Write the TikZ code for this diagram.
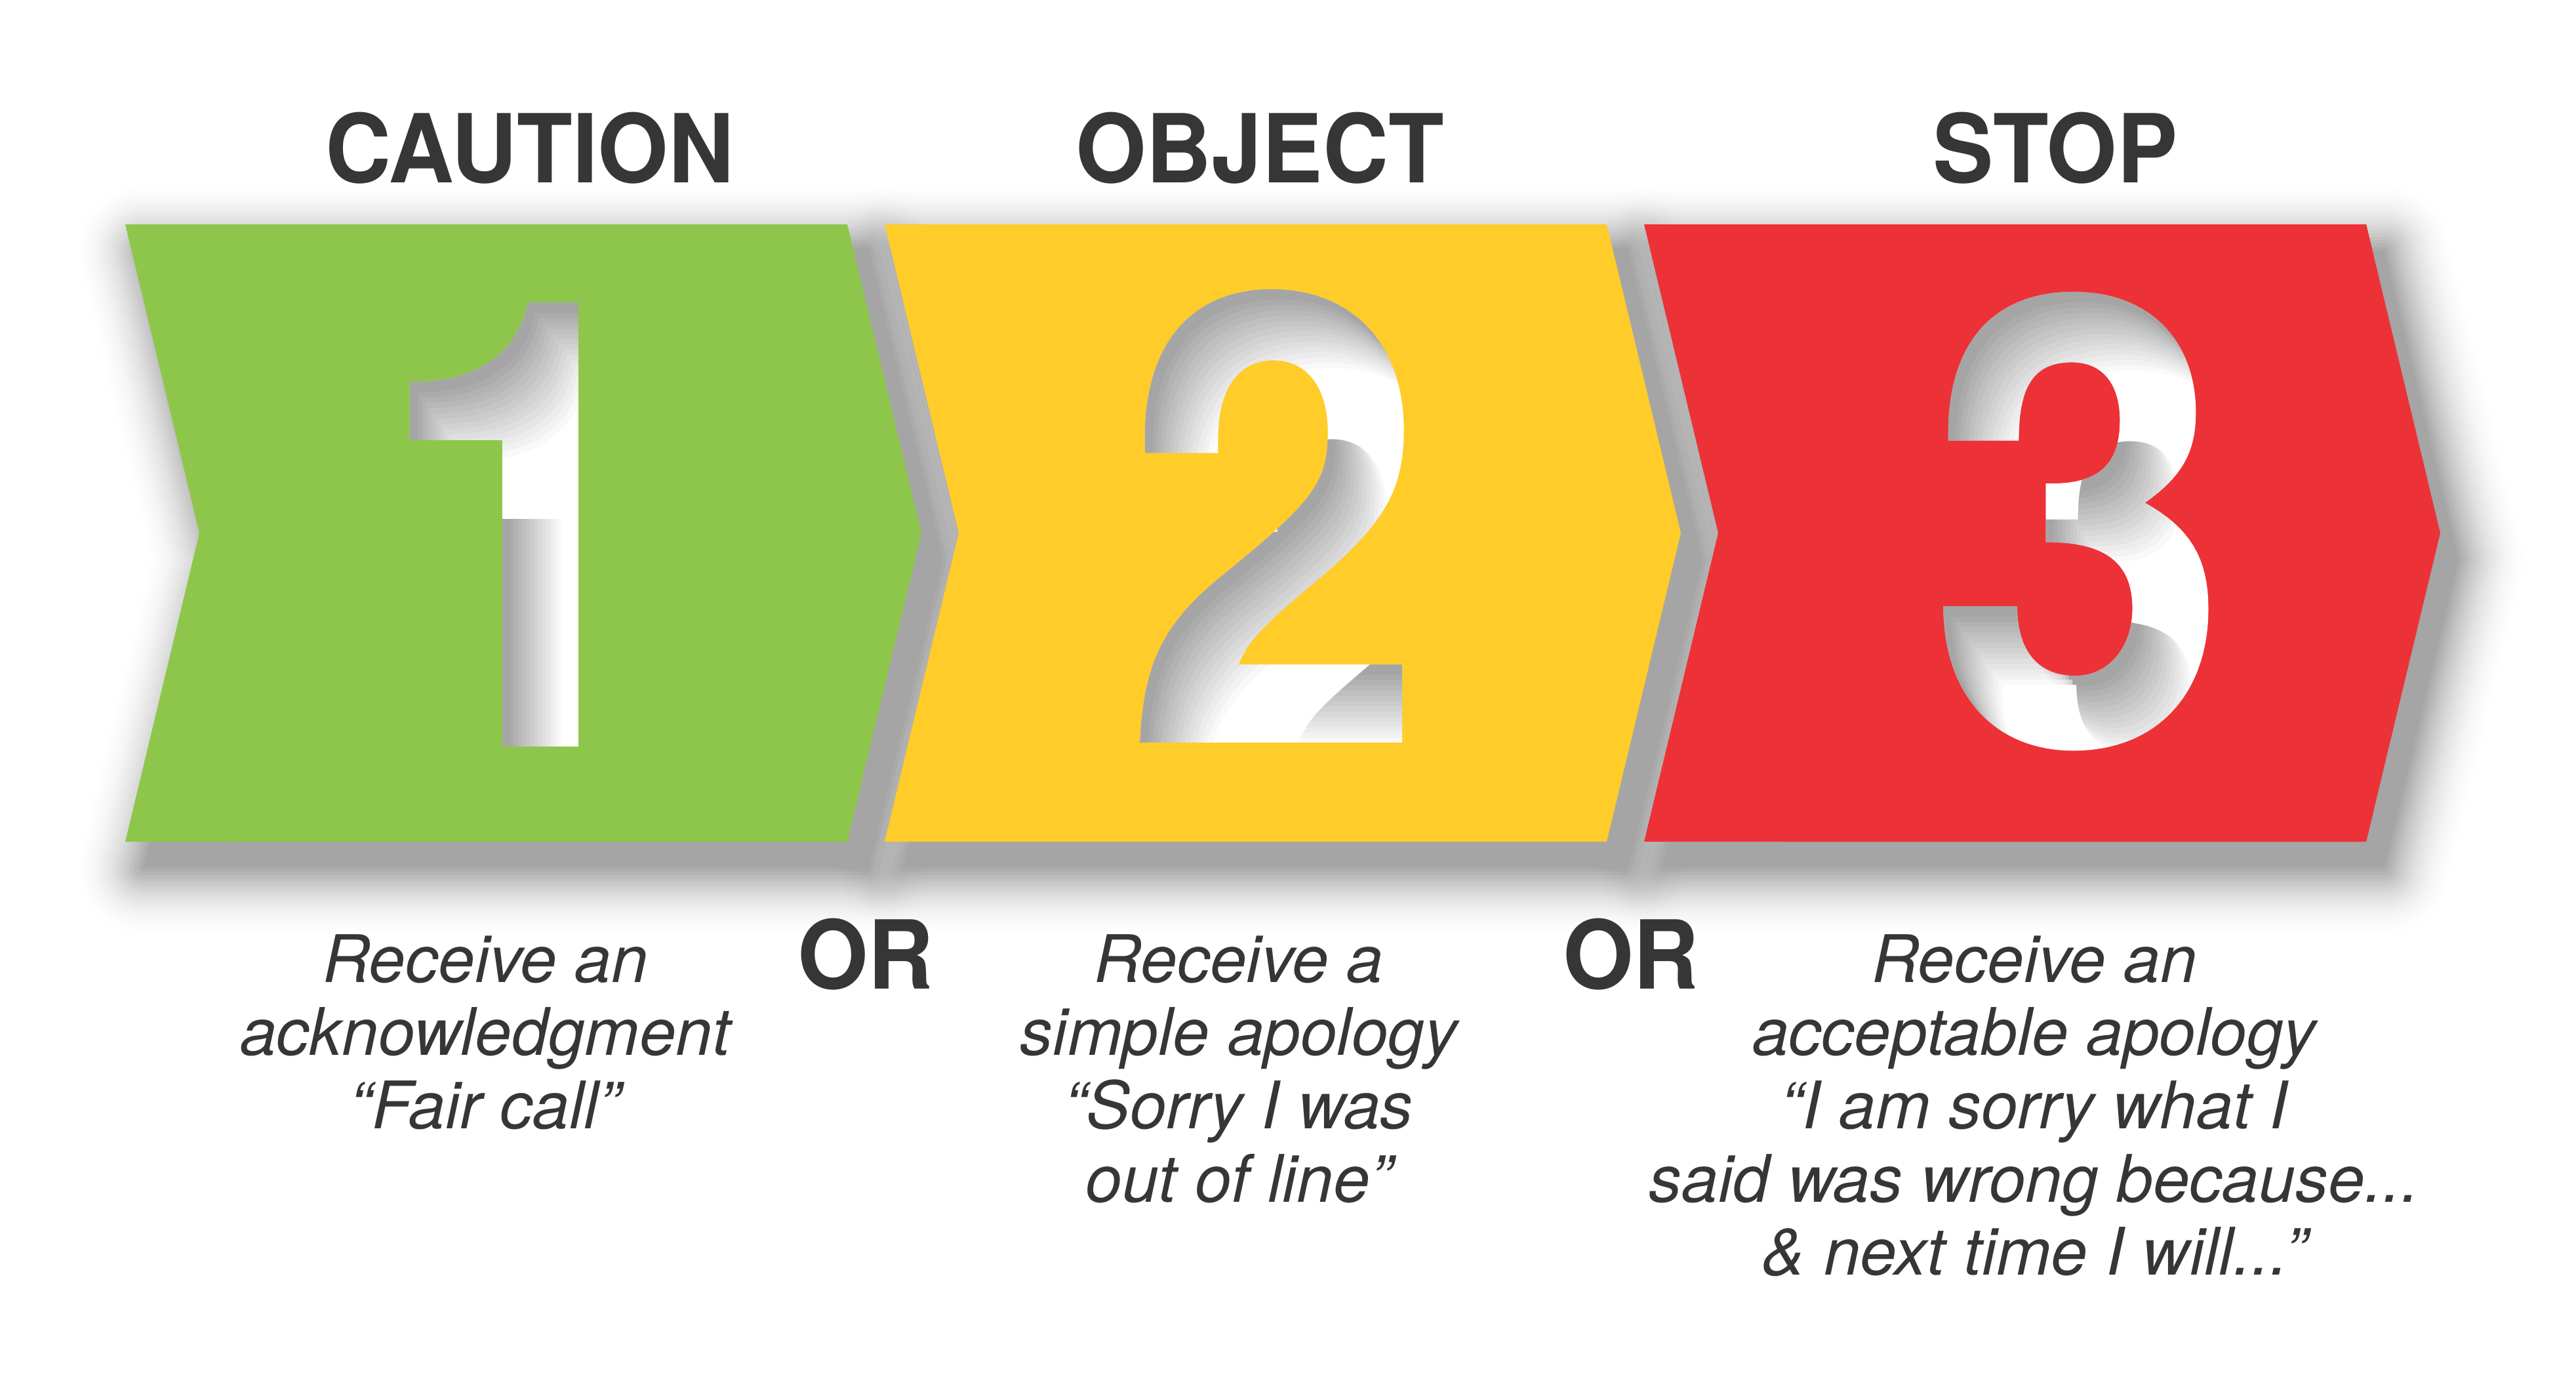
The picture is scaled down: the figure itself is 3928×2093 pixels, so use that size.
\documentclass[tikz,border=0pt]{standalone}
\usepackage{fontspec}
\usepackage{graphicx}
\setmainfont{TeX Gyre Heros}
\usetikzlibrary{fadings,calc}
\definecolor{cgreen}{HTML}{8EC64C}
\definecolor{cyellow}{HTML}{FFCC2A}
\definecolor{cred}{HTML}{EC3237}
\definecolor{inkgray}{HTML}{373536}
\definecolor{shadowgray}{HTML}{A5A5A5}
\newcommand{\digtxt}[1]{\scalebox{0.87}[1]{\fontsize{955}{955}\selectfont\bfseries #1}}
\newcommand{\headtxt}[1]{\scalebox{0.955}[1]{\fontsize{145}{150}\selectfont\bfseries #1}}
\newcommand{\chevpath}[2]{(#1,#2) -- ++(1101,0) -- ++(113,470.5) -- ++(-113,470.5) -- ++(-1101,0) -- ++(113,-470.5) -- cycle}
% inner shadow mask of a digit
\newcommand{\makedigfading}[2]{%
\pgfdeclarefading{#1}{%
  \begin{pgfpicture}%
    \pgfpathrectangle{\pgfpoint{-450pt}{-500pt}}{\pgfpoint{900pt}{1000pt}}%
    \pgfusepath{use as bounding box}%
    \pgftext{\color{white}\digtxt{#2}}%
    \foreach \ii in {1,...,14}{%
      \pgfmathsetmacro\tsh{20+(\ii-1)*10}%
      \pgfmathsetmacro\aop{1/(15-\ii)}%
      \pgfmathsetmacro\xsh{0.6*\tsh}%
      \pgfmathsetmacro\ysh{-0.8*\tsh}%
      \begin{pgfscope}\pgfsetfillopacity{\aop}%
      \pgftext[at=\pgfpoint{\xsh pt}{\ysh pt}]{\color{black}\digtxt{#2}}%
      \end{pgfscope}%
    }%
  \end{pgfpicture}}}
% mask of everything but the digit
\newcommand{\makecoverfading}[2]{%
\pgfdeclarefading{#1}{%
  \begin{pgfpicture}%
    \pgfpathrectangle{\pgfpoint{-450pt}{-500pt}}{\pgfpoint{900pt}{1000pt}}%
    \pgfsetfillcolor{white}%
    \pgfusepath{fill}%
    \pgftext{\color{black}\digtxt{#2}}%
  \end{pgfpicture}}}
\makedigfading{fadeone}{1}
\makedigfading{fadetwo}{2}
\makedigfading{fadethree}{3}
\makecoverfading{coverone}{1}
\makecoverfading{covertwo}{2}
\makecoverfading{coverthree}{3}
\begin{document}
\begin{tikzpicture}[x=1pt,y=-1pt,
  digit/.style={inner sep=0pt, text=white, anchor=base},
  head/.style={inner sep=0pt, text=inkgray, anchor=base},
  body/.style={inner sep=0pt, text=inkgray, anchor=base, font=\fontsize{100}{111.7}\selectfont\itshape},
  inshadow/.style={shadowgray, fit fading=false}]
\useasboundingbox (0,0) rectangle (3928,2093);
\fill[white] (0,0) rectangle (3928,2093);
% drop shadows
\foreach \L in {191,1349,2507}{
  \foreach \k in {1,...,19}{
    \pgfmathsetmacro\ww{200*(20-\k)/19}
    \pgfmathsetmacro\al{((\k/20)^2-((\k-1)/20)^2)/(1-((\k-1)/20)^2)}
    \draw[shadowgray, draw opacity=\al, line width=\ww pt, line join=round] \chevpath{\L+28}{382};
  }
  \fill[shadowgray] \chevpath{\L+28}{382};
}
% chevrons
\fill[cgreen] \chevpath{191}{342};
\fill[cyellow] \chevpath{1349}{342};
\fill[cred] \chevpath{2507}{342};
% digits
\node[digit] (d1) at (799,1138) {\digtxt{1}};
\node[digit] (d2) at (1944,1132) {\digtxt{2}};
\node[digit] (d3) at (3170,1136) {\digtxt{3}};
% inner shadows
\fill[inshadow, path fading=fadeone, fading transform={shift={(d1.center)}}] ($(d1.center)+(-450,-500)$) rectangle ($(d1.center)+(450,500)$);
\fill[inshadow, path fading=fadetwo, fading transform={shift={(d2.center)}}] ($(d2.center)+(-450,-500)$) rectangle ($(d2.center)+(450,500)$);
\fill[inshadow, path fading=fadethree, fading transform={shift={(d3.center)}}] ($(d3.center)+(-450,-500)$) rectangle ($(d3.center)+(450,500)$);
% repaint chevron colour outside each digit
\fill[cgreen, fit fading=false, path fading=coverone, fading transform={shift={(d1.center)}}] \chevpath{191}{342};
\fill[cyellow, fit fading=false, path fading=covertwo, fading transform={shift={(d2.center)}}] \chevpath{1349}{342};
\fill[cred, fit fading=false, path fading=coverthree, fading transform={shift={(d3.center)}}] \chevpath{2507}{342};
% headings
\node[head] (h1) at (808,278) {\headtxt{CAUTION}};
\node[head] (h2) at (1921,278) {\headtxt{OBJECT}};
\node[head] (h3) at (3134,278) {\headtxt{STOP}};
% OR
\node[head] (or1) at (1320,1507) {\headtxt{OR}};
\node[head] (or2) at (2487,1507) {\headtxt{OR}};
% texts
\node[body] (t1) at (740,1497) {\begin{tabular}[t]{@{}c@{}}Receive an\\acknowledgment\\“Fair call”\end{tabular}};
\node[body] (t2) at (1889,1497) {\begin{tabular}[t]{@{}c@{}}Receive a\\simple apology\\“Sorry I was\\out of line”\end{tabular}};
\node[body] (t3) at (3102,1497) {\begin{tabular}[t]{@{}c@{}}Receive an\\acceptable apology\\“I am sorry what I\\said was wrong because...\\\& next time I will...”\end{tabular}};
\end{tikzpicture}
\end{document}
